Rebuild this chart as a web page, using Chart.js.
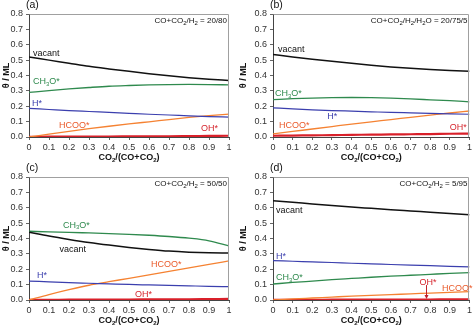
<!DOCTYPE html>
<html>
<head>
<meta charset="utf-8">
<script src="https://cdn.jsdelivr.net/npm/chart.js@4.4.1/dist/chart.umd.min.js"></script>
<style>
  html, body { margin: 0; padding: 0; background: #fff; }
  #wrap { position: relative; width: 474px; height: 326px; overflow: hidden; }
  canvas { position: absolute; }
</style>
</head>
<body>
<div id="wrap">
  <canvas id="pa" width="237" height="163" style="left:0;top:0"></canvas>
  <canvas id="pb" width="237" height="163" style="left:237px;top:0"></canvas>
  <canvas id="pc" width="237" height="163" style="left:0;top:163px"></canvas>
  <canvas id="pd" width="237" height="163" style="left:237px;top:163px"></canvas>
</div>
<script>
// CO2 fraction of the carbon feed, x axis of every panel
const co2Fraction = [0, 0.1, 0.2, 0.3, 0.4, 0.5, 0.6, 0.7, 0.8, 0.9, 1];
const xTicks = [0, 0.1, 0.2, 0.3, 0.4, 0.5, 0.6, 0.7, 0.8, 0.9, 1];
const yTicks = [0, 0.1, 0.2, 0.3, 0.4, 0.5, 0.6, 0.7, 0.8];

// (a) CO+CO2/H2 = 20/80
const vacantA = [0.52, 0.50, 0.48, 0.46, 0.443, 0.427, 0.412, 0.398, 0.386, 0.376, 0.368];
const ch3oA   = [0.29, 0.302, 0.313, 0.322, 0.33, 0.335, 0.339, 0.341, 0.342, 0.341, 0.339];
const hA      = [0.186, 0.179, 0.172, 0.166, 0.16, 0.154, 0.148, 0.143, 0.138, 0.133, 0.129];
const hcooA   = [0, 0.019, 0.037, 0.054, 0.07, 0.085, 0.099, 0.113, 0.127, 0.139, 0.149];
const ohA     = [0.001, 0.002, 0.002, 0.003, 0.003, 0.004, 0.005, 0.005, 0.006, 0.007, 0.008];

// (b) CO+CO2/H2/H2O = 20/75/5
const vacantB = [0.537, 0.521, 0.506, 0.492, 0.479, 0.467, 0.456, 0.447, 0.439, 0.432, 0.427];
const ch3oB   = [0.243, 0.249, 0.253, 0.256, 0.257, 0.256, 0.253, 0.248, 0.242, 0.236, 0.229];
const hB      = [0.19, 0.183, 0.177, 0.172, 0.168, 0.164, 0.16, 0.157, 0.154, 0.151, 0.148];
const hcooB   = [0.02, 0.036, 0.052, 0.068, 0.084, 0.099, 0.113, 0.128, 0.142, 0.156, 0.169];
const ohB     = [0.008, 0.009, 0.011, 0.012, 0.014, 0.015, 0.017, 0.018, 0.019, 0.021, 0.022];

// (c) CO+CO2/H2 = 50/50
const vacantC = [0.441, 0.416, 0.394, 0.374, 0.357, 0.342, 0.329, 0.318, 0.311, 0.307, 0.306];
const ch3oC   = [0.447, 0.443, 0.44, 0.436, 0.432, 0.427, 0.421, 0.413, 0.402, 0.385, 0.352];
const hC      = [0.123, 0.118, 0.113, 0.109, 0.105, 0.101, 0.098, 0.095, 0.092, 0.089, 0.087];
const hcooC   = [0, 0.035, 0.067, 0.096, 0.119, 0.141, 0.164, 0.186, 0.209, 0.231, 0.254];
const ohC     = [0.001, 0.001, 0.002, 0.002, 0.003, 0.003, 0.004, 0.005, 0.005, 0.006, 0.007];

// (d) CO+CO2/H2 = 5/95
const vacantD = [0.645, 0.635, 0.625, 0.615, 0.605, 0.596, 0.587, 0.579, 0.571, 0.563, 0.555];
const ch3oD   = [0.104, 0.114, 0.123, 0.132, 0.14, 0.148, 0.155, 0.161, 0.167, 0.173, 0.178];
const hD      = [0.256, 0.252, 0.248, 0.244, 0.239, 0.235, 0.231, 0.227, 0.223, 0.219, 0.215];
const hcooD   = [0, 0.007, 0.013, 0.019, 0.025, 0.03, 0.035, 0.04, 0.045, 0.05, 0.054];
const ohD     = [0.001, 0.001, 0.001, 0.002, 0.002, 0.002, 0.003, 0.003, 0.003, 0.004, 0.004];

const species = ['vacant', 'CH_3O*', 'H*', 'HCOO*', 'OH*'];
const lineColors = ['#111111', '#2f8a4e', '#3b3fae', '#f58232', '#d9202a'];
const textColors = ['#111111', '#2f8a4e', '#3b3fae', '#ea5a2a', '#d6262e'];
const lineWidths = [1.5, 1.3, 1.2, 1.3, 2.2];

const FONT = '"Liberation Sans", Arial, sans-serif';

// Draws text where "_x" marks a one-character subscript
function richText(ctx, str, x, y, size, bold, align) {
  const parts = [];
  for (let i = 0; i < str.length; i++) {
    if (str[i] === '_' && i + 1 < str.length) { parts.push({ t: str[i + 1], sub: true }); i++; }
    else parts.push({ t: str[i], sub: false });
  }
  const w = bold ? 'bold ' : '';
  const big = w + size + 'px ' + FONT;
  const small = w + Math.round(size * 0.72) + 'px ' + FONT;
  let total = 0;
  parts.forEach(p => { ctx.font = p.sub ? small : big; p.w = ctx.measureText(p.t).width; total += p.w; });
  let cx = align === 'right' ? x - total : align === 'center' ? x - total / 2 : x;
  ctx.textBaseline = 'middle';
  ctx.textAlign = 'left';
  parts.forEach(p => {
    ctx.font = p.sub ? small : big;
    ctx.fillText(p.t, cx, p.sub ? y + size * 0.3 : y);
    cx += p.w;
  });
}

const panels = [
  { canvas: 'pa', tag: '(a)', feed: 'CO+CO_2/H_2 = 20/80', left: 29, right: 8,
    series: [vacantA, ch3oA, hA, hcooA, ohA],
    labelAt: [[0.02, 0.546], [0.02, 0.358], [0.015, 0.215], [0.15, 0.072], [0.86, 0.052]] },
  { canvas: 'pb', tag: '(b)', feed: 'CO+CO_2/H_2/H_2O = 20/75/5', left: 36, right: 2,
    series: [vacantB, ch3oB, hB, hcooB, ohB],
    labelAt: [[0.025, 0.57], [0.01, 0.28], [0.276, 0.13], [0.03, 0.077], [0.9, 0.064]] },
  { canvas: 'pc', tag: '(c)', feed: 'CO+CO_2/H_2 = 50/50', left: 29, right: 8,
    series: [vacantC, ch3oC, hC, hcooC, ohC],
    labelAt: [[0.153, 0.33], [0.17, 0.487], [0.04, 0.161], [0.61, 0.233], [0.53, 0.037]] },
  { canvas: 'pd', tag: '(d)', feed: 'CO+CO_2/H_2 = 5/95', left: 36, right: 1,
    series: [vacantD, ch3oD, hD, hcooD, ohD],
    labelAt: [[0.015, 0.579], [0.015, 0.148], [0.015, 0.285], [0.86, 0.076], [0.745, 0.115]],
    pointer: { x: 0.78, from: 0.097, to: 0.006 } }
];

// Frame, panel tag, feed ratio, x title and curve labels
const annotate = {
  id: 'annotate',
  afterDraw(chart, args, opts) {
    const p = opts.panel;
    const { ctx, chartArea: a, scales } = chart;
    ctx.save();
    ctx.strokeStyle = '#a0a0a0';
    ctx.lineWidth = 1;
    ctx.beginPath();
    ctx.moveTo(Math.round(a.left) + 0.5, Math.round(a.top) + 0.5);
    ctx.lineTo(Math.round(a.right) - 0.5, Math.round(a.top) + 0.5);
    ctx.lineTo(Math.round(a.right) - 0.5, Math.round(a.bottom));
    ctx.stroke();

    ctx.fillStyle = '#111';
    richText(ctx, p.tag, a.left - 3, 5, 10.5, false, 'left');
    richText(ctx, p.feed, a.right - 2, a.top + 7, 8, false, 'right');
    richText(ctx, 'CO_2/(CO+CO_2)', (a.left + a.right) / 2, a.bottom + 21, 9, true, 'center');

    p.labelAt.forEach((pos, i) => {
      ctx.fillStyle = textColors[i];
      richText(ctx, species[i], scales.x.getPixelForValue(pos[0]), scales.y.getPixelForValue(pos[1]), 9, false, 'left');
    });

    if (p.pointer) {
      const px = Math.round(scales.x.getPixelForValue(p.pointer.x)) + 0.5;
      const y1 = scales.y.getPixelForValue(p.pointer.from);
      const y2 = scales.y.getPixelForValue(p.pointer.to);
      ctx.strokeStyle = '#c0202a';
      ctx.fillStyle = '#c0202a';
      ctx.lineWidth = 1;
      ctx.beginPath(); ctx.moveTo(px, y1); ctx.lineTo(px, y2 - 2); ctx.stroke();
      ctx.beginPath(); ctx.moveTo(px, y2); ctx.lineTo(px - 2, y2 - 4); ctx.lineTo(px + 2, y2 - 4); ctx.closePath(); ctx.fill();
    }
    ctx.restore();
  }
};

panels.forEach(p => {
  const datasets = p.series.map((vals, i) => ({
    label: species[i],
    data: co2Fraction.map((x, k) => ({ x: x, y: vals[k] })),
    borderColor: lineColors[i],
    borderWidth: lineWidths[i],
    pointRadius: 0,
    cubicInterpolationMode: 'monotone',
    fill: false
  }));

  new Chart(document.getElementById(p.canvas), {
    type: 'line',
    data: { datasets },
    plugins: [annotate],
    options: {
      responsive: false,
      animation: false,
      devicePixelRatio: 1,
      layout: { padding: { top: 14, right: p.right, left: 0, bottom: 0 } },
      plugins: {
        legend: { display: false },
        tooltip: { enabled: false },
        annotate: { panel: p }
      },
      scales: {
        x: {
          type: 'linear', min: 0, max: 1,
          afterBuildTicks: s => { s.ticks = xTicks.map(v => ({ value: v })); },
          afterFit: s => { s.height = 26; },
          grid: { drawOnChartArea: false, tickLength: 3, color: '#666' },
          border: { color: '#444', width: 1 },
          ticks: {
            padding: 2, maxRotation: 0, autoSkip: false,
            color: '#333', font: { family: FONT, size: 9 },
            callback: v => (v === 0 || v === 1) ? String(v) : v.toFixed(1)
          }
        },
        y: {
          type: 'linear', min: 0, max: 0.8,
          afterBuildTicks: s => { s.ticks = yTicks.map(v => ({ value: v })); },
          afterFit: s => { s.width = p.left; },
          grid: { drawOnChartArea: false, tickLength: 3, color: '#666' },
          border: { color: '#444', width: 1 },
          title: { display: true, text: 'θ / ML', color: '#111', padding: 1, font: { family: FONT, size: 9, weight: 'bold' } },
          ticks: { padding: 3, color: '#333', font: { family: FONT, size: 9 }, callback: v => v.toFixed(1) }
        }
      }
    }
  });
});
</script>
</body>
</html>
